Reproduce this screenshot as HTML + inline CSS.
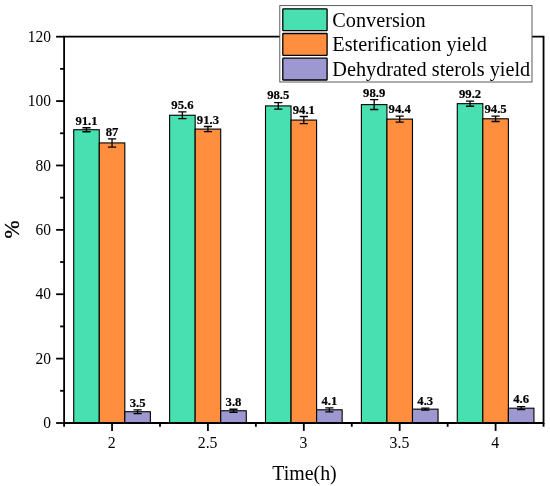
<!DOCTYPE html>
<html lang="en"><head><meta charset="utf-8"><title>Chart</title>
<style>html,body{margin:0;padding:0;background:#fff}svg{display:block}text{font-family:'Liberation Serif', serif;fill:#000}.v{font-weight:bold;font-size:12.7px;text-anchor:middle;stroke:#000;stroke-width:0.2px}.t{font-size:15.8px}.ty{font-size:15.5px}.lx{font-size:19.9px}.l{font-size:20.25px}</style></head><body>
<svg width="550" height="486" viewBox="0 0 550 486">
<rect width="550" height="486" fill="#fff"/>
<rect x="73.72" y="129.73" width="25.55" height="293.27" fill="#48dfb1" stroke="#000" stroke-width="1.1"/>
<rect x="99.27" y="142.93" width="25.55" height="280.07" fill="#ff8e3e" stroke="#000" stroke-width="1.1"/>
<rect x="124.82" y="411.73" width="25.55" height="11.27" fill="#9d98d0" stroke="#000" stroke-width="1.1"/>
<rect x="169.61" y="115.25" width="25.55" height="307.75" fill="#48dfb1" stroke="#000" stroke-width="1.1"/>
<rect x="195.16" y="129.09" width="25.55" height="293.91" fill="#ff8e3e" stroke="#000" stroke-width="1.1"/>
<rect x="220.71" y="410.77" width="25.55" height="12.23" fill="#9d98d0" stroke="#000" stroke-width="1.1"/>
<rect x="265.50" y="105.91" width="25.55" height="317.09" fill="#48dfb1" stroke="#000" stroke-width="1.1"/>
<rect x="291.05" y="120.08" width="25.55" height="302.92" fill="#ff8e3e" stroke="#000" stroke-width="1.1"/>
<rect x="316.60" y="409.80" width="25.55" height="13.20" fill="#9d98d0" stroke="#000" stroke-width="1.1"/>
<rect x="361.39" y="104.62" width="25.55" height="318.38" fill="#48dfb1" stroke="#000" stroke-width="1.1"/>
<rect x="386.94" y="119.11" width="25.55" height="303.89" fill="#ff8e3e" stroke="#000" stroke-width="1.1"/>
<rect x="412.49" y="409.16" width="25.55" height="13.84" fill="#9d98d0" stroke="#000" stroke-width="1.1"/>
<rect x="457.28" y="103.66" width="25.55" height="319.34" fill="#48dfb1" stroke="#000" stroke-width="1.1"/>
<rect x="482.83" y="118.79" width="25.55" height="304.21" fill="#ff8e3e" stroke="#000" stroke-width="1.1"/>
<rect x="508.38" y="408.19" width="25.55" height="14.81" fill="#9d98d0" stroke="#000" stroke-width="1.1"/>
<path d="M86.49 127.73V131.73M82.39 127.73h8.2M82.39 131.73h8.2" stroke="#000" stroke-width="1.3" fill="none"/>
<text class="v" transform="translate(86.49 124.60) scale(1 1.06)">91.1</text>
<path d="M112.04 138.83V147.03M107.94 138.83h8.2M107.94 147.03h8.2" stroke="#000" stroke-width="1.3" fill="none"/>
<text class="v" transform="translate(112.04 136.30) scale(1 1.06)">87</text>
<path d="M137.59 409.83V413.63M133.50 409.83h8.2M133.50 413.63h8.2" stroke="#000" stroke-width="1.3" fill="none"/>
<text class="v" transform="translate(137.59 406.60) scale(1 1.06)">3.5</text>
<path d="M182.38 111.85V118.65M178.28 111.85h8.2M178.28 118.65h8.2" stroke="#000" stroke-width="1.3" fill="none"/>
<text class="v" transform="translate(182.38 108.60) scale(1 1.06)">95.6</text>
<path d="M207.93 126.49V131.69M203.83 126.49h8.2M203.83 131.69h8.2" stroke="#000" stroke-width="1.3" fill="none"/>
<text class="v" transform="translate(207.93 123.60) scale(1 1.06)">91.3</text>
<path d="M233.48 409.27V412.27M229.38 409.27h8.2M229.38 412.27h8.2" stroke="#000" stroke-width="1.3" fill="none"/>
<text class="v" transform="translate(233.48 406.30) scale(1 1.06)">3.8</text>
<path d="M278.27 102.61V109.21M274.17 102.61h8.2M274.17 109.21h8.2" stroke="#000" stroke-width="1.3" fill="none"/>
<text class="v" transform="translate(278.27 99.40) scale(1 1.06)">98.5</text>
<path d="M303.82 116.48V123.68M299.72 116.48h8.2M299.72 123.68h8.2" stroke="#000" stroke-width="1.3" fill="none"/>
<text class="v" transform="translate(303.82 113.60) scale(1 1.06)">94.1</text>
<path d="M329.37 407.80V411.80M325.27 407.80h8.2M325.27 411.80h8.2" stroke="#000" stroke-width="1.3" fill="none"/>
<text class="v" transform="translate(329.37 404.60) scale(1 1.06)">4.1</text>
<path d="M374.16 99.72V109.52M370.06 99.72h8.2M370.06 109.52h8.2" stroke="#000" stroke-width="1.3" fill="none"/>
<text class="v" transform="translate(374.16 96.90) scale(1 1.06)">98.9</text>
<path d="M399.71 116.11V122.11M395.61 116.11h8.2M395.61 122.11h8.2" stroke="#000" stroke-width="1.3" fill="none"/>
<text class="v" transform="translate(399.71 113.40) scale(1 1.06)">94.4</text>
<path d="M425.26 408.16V410.16M421.16 408.16h8.2M421.16 410.16h8.2" stroke="#000" stroke-width="1.3" fill="none"/>
<text class="v" transform="translate(425.26 404.60) scale(1 1.06)">4.3</text>
<path d="M470.05 101.06V106.26M465.95 101.06h8.2M465.95 106.26h8.2" stroke="#000" stroke-width="1.3" fill="none"/>
<text class="v" transform="translate(470.05 97.80) scale(1 1.06)">99.2</text>
<path d="M495.60 116.09V121.49M491.50 116.09h8.2M491.50 121.49h8.2" stroke="#000" stroke-width="1.3" fill="none"/>
<text class="v" transform="translate(495.60 113.30) scale(1 1.06)">94.5</text>
<path d="M521.15 406.69V409.69M517.05 406.69h8.2M517.05 409.69h8.2" stroke="#000" stroke-width="1.3" fill="none"/>
<text class="v" transform="translate(521.15 403.40) scale(1 1.06)">4.6</text>
<path d="M64.1 36.7H543.55V423.0H64.1Z" fill="none" stroke="#000" stroke-width="1.8"/>
<path d="M56.10 423.00H64.1" stroke="#000" stroke-width="1.8"/>
<text class="ty" text-anchor="end" transform="translate(51.10 428.20) scale(1 1.06)">0</text>
<path d="M60.10 390.81H64.1" stroke="#000" stroke-width="1.8"/>
<path d="M56.10 358.62H64.1" stroke="#000" stroke-width="1.8"/>
<text class="ty" text-anchor="end" transform="translate(51.10 363.82) scale(1 1.06)">20</text>
<path d="M60.10 326.43H64.1" stroke="#000" stroke-width="1.8"/>
<path d="M56.10 294.23H64.1" stroke="#000" stroke-width="1.8"/>
<text class="ty" text-anchor="end" transform="translate(51.10 299.43) scale(1 1.06)">40</text>
<path d="M60.10 262.04H64.1" stroke="#000" stroke-width="1.8"/>
<path d="M56.10 229.85H64.1" stroke="#000" stroke-width="1.8"/>
<text class="ty" text-anchor="end" transform="translate(51.10 235.05) scale(1 1.06)">60</text>
<path d="M60.10 197.66H64.1" stroke="#000" stroke-width="1.8"/>
<path d="M56.10 165.47H64.1" stroke="#000" stroke-width="1.8"/>
<text class="ty" text-anchor="end" transform="translate(51.10 170.67) scale(1 1.06)">80</text>
<path d="M60.10 133.27H64.1" stroke="#000" stroke-width="1.8"/>
<path d="M56.10 101.08H64.1" stroke="#000" stroke-width="1.8"/>
<text class="ty" text-anchor="end" transform="translate(51.10 106.28) scale(1 1.06)">100</text>
<path d="M60.10 68.89H64.1" stroke="#000" stroke-width="1.8"/>
<path d="M56.10 36.70H64.1" stroke="#000" stroke-width="1.8"/>
<text class="ty" text-anchor="end" transform="translate(51.10 41.90) scale(1 1.06)">120</text>
<path d="M64.1 423.0v3.8M543.55 423.0v3.8" stroke="#000" stroke-width="1.8"/>
<path d="M112.04 423.0v7.9" stroke="#000" stroke-width="1.8"/>
<text class="t" text-anchor="middle" transform="translate(111.74 448.20) scale(1 1.1)">2</text>
<path d="M159.99 423.0v3.8" stroke="#000" stroke-width="1.8"/>
<path d="M207.93 423.0v7.9" stroke="#000" stroke-width="1.8"/>
<text class="t" text-anchor="middle" transform="translate(207.63 448.20) scale(1 1.1)">2.5</text>
<path d="M255.88 423.0v3.8" stroke="#000" stroke-width="1.8"/>
<path d="M303.82 423.0v7.9" stroke="#000" stroke-width="1.8"/>
<text class="t" text-anchor="middle" transform="translate(303.52 448.20) scale(1 1.1)">3</text>
<path d="M351.77 423.0v3.8" stroke="#000" stroke-width="1.8"/>
<path d="M399.71 423.0v7.9" stroke="#000" stroke-width="1.8"/>
<text class="t" text-anchor="middle" transform="translate(399.41 448.20) scale(1 1.1)">3.5</text>
<path d="M447.66 423.0v3.8" stroke="#000" stroke-width="1.8"/>
<path d="M495.60 423.0v7.9" stroke="#000" stroke-width="1.8"/>
<text class="t" text-anchor="middle" transform="translate(495.30 448.20) scale(1 1.1)">4</text>
<text class="lx" text-anchor="middle" transform="translate(304.50 479.60) scale(1 1.06)">Time(h)</text>
<text class="l" stroke="#000" stroke-width="0.3" text-anchor="middle" transform="translate(18.60 229.40) rotate(-90) scale(1.07 1) scale(1 1.05)">%</text>
<rect x="279.8" y="5.6" width="252.2" height="76.4" fill="#fff" stroke="#4a4a4a" stroke-width="0.9"/>
<rect x="282.8" y="8.80" width="44.3" height="21.8" rx="0.6" fill="#48dfb1" stroke="#000" stroke-width="1.3"/>
<text class="l" transform="translate(332.30 26.60) scale(1 1.05)">Conversion</text>
<rect x="282.8" y="33.50" width="44.3" height="21.8" rx="0.6" fill="#ff8e3e" stroke="#000" stroke-width="1.3"/>
<text class="l" transform="translate(332.30 51.30) scale(1 1.05)">Esterification yield</text>
<rect x="282.8" y="58.20" width="44.3" height="21.8" rx="0.6" fill="#9d98d0" stroke="#000" stroke-width="1.3"/>
<text class="l" transform="translate(332.30 76.00) scale(1 1.05)">Dehydrated sterols yield</text>
</svg></body></html>
